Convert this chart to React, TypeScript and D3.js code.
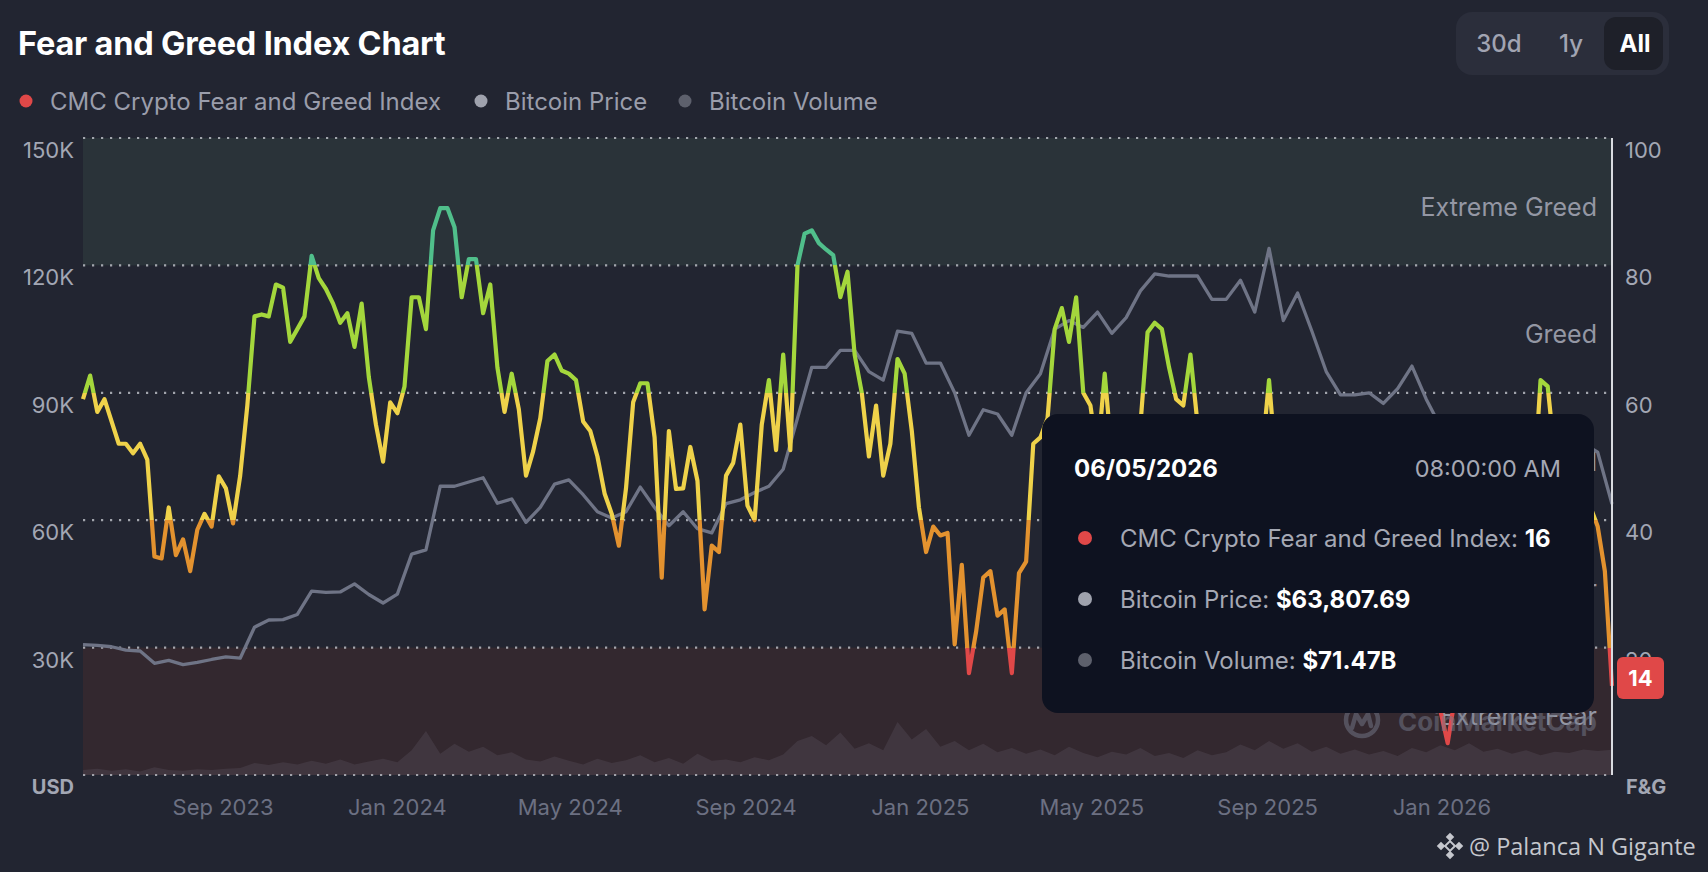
import * as d3 from "d3";

const WIDTH = 1708;
const HEIGHT = 872;

// sampling of the series (UTC days from the first point)
const SERIES_START = "2023-05-26";
const FG_STEP_DAYS = 5;
const PRICE_STEP_DAYS = 10;

// CMC Crypto Fear and Greed Index, every 5 days
const FEAR_GREED = [
  59, 62.7, 57, 59, 55.5, 52, 52, 50.5, 52, 49.5,
  34.3, 34, 42, 34.5, 37, 32, 38.5, 41, 39, 46.9,
  45, 39.5, 47, 58, 72, 72.3, 72, 77, 76.5, 68,
  70, 72, 81.5, 78, 76.3, 74, 71, 72.5, 67.2, 74,
  62.5, 55, 49.2, 58.5, 56.8, 61, 75, 75, 70, 85.5,
  89, 89, 86, 75, 81, 81, 72.5, 77, 64, 57,
  63, 57.4, 47, 50.8, 56, 65, 66, 63.5, 63, 62,
  55.5, 54, 50, 44.2, 41, 36, 45, 58.5, 61.5, 61.5,
  53, 31, 54, 44.9, 45, 51.5, 46.2, 26, 36, 35,
  47, 49, 55, 42.3, 40, 55, 62, 51, 66, 51,
  80, 85, 85.5, 83.5, 82.5, 81.6, 75, 79, 66, 60,
  50, 58, 47, 52, 65.3, 63, 54, 42, 35, 39,
  37.6, 38, 20.5, 33, 16, 22.5, 31, 32, 25, 26,
  16, 31.7, 33.5, 52, 53, 56, 70, 73.3, 68, 75,
  60, 58, 50, 63, 50, 45, 48, 52, 55, 69.5,
  71, 70, 64, 59, 58, 66, 55, 50, 46, 48,
  44, 50, 47, 42, 45, 50, 62, 48, 40, 36,
  42, 33, 30, 38, 28, 24, 30, 20, 15, 22,
  18, 25, 28, 22, 30, 26, 32, 28, 20, 14,
  10, 5, 12, 16, 12, 20, 18, 26, 24, 30,
  28, 36, 40, 44, 62, 61, 50, 42, 45, 38,
  44, 42, 39, 32, 14,
];

// Bitcoin price in thousands of USD, every 10 days
const BTC_PRICE_K = [
  30.7, 30.5, 30.2, 29.4, 29.2, 26.3, 27, 26, 26.5, 27.2,
  27.8, 27.5, 34.8, 36.5, 36.6, 37.8, 43.3, 43, 43.1, 45,
  42.5, 40.5, 42.6, 52, 53, 68, 68, 69, 70, 64,
  65, 59.5, 63, 68.5, 69.5, 66, 62, 60.5, 62, 67.8,
  63, 58.7, 62, 58, 57, 63.9, 64.8, 66.5, 68, 72,
  84, 96, 96, 100, 100, 95, 93, 104.5, 104, 97,
  97, 90, 80, 86, 85, 80, 90, 94.5, 105, 107,
  105.4, 109, 104, 107.7, 114, 118, 117.5, 117.5, 117.5, 112,
  112, 116.5, 109, 124, 107, 113.5, 104.5, 95, 89.5, 89.5,
  90, 87.5, 91, 96.3, 88.5, 82, 78, 75, 70, 68,
  70, 72, 74, 76, 78, 78, 76, 63.8,
];

// Bitcoin volume in billions of USD, every 10 days
const BTC_VOLUME_B = [
  14, 18, 12, 16, 10, 22, 14, 12, 16, 14, 18, 20,
  34, 28, 36, 30, 40, 32, 44, 30, 38, 46, 36,
  70, 124, 60, 88, 66, 80, 56, 64,
  44, 38, 52, 40, 30, 46, 34, 42, 56, 36, 48, 32, 60, 40, 44, 36, 50, 42, 58,
  96, 110, 84, 120, 74, 90, 70,
  150, 100, 130, 80, 96, 70, 88, 64, 76, 60,
  72, 56, 80, 62, 50, 66, 58, 76, 54, 62, 48, 70, 56, 64,
  86, 70, 96, 74, 90, 66, 80, 60, 72, 58, 68, 54, 76, 64,
  84, 70, 90, 66, 74, 60, 70, 56, 66, 62, 72, 68, 71.47,
];

const FG_TICKS = [20, 40, 60, 80, 100];
const PRICE_TICKS_K = [30, 60, 90, 120, 150];

const ZONE_NAMES = ["Extreme Fear", "Fear", "Neutral", "Greed", "Extreme Greed"];
const ZONE_EDGES = [0, 20, 40, 60, 80, 100];
const ZONE_COLORS = ["#e04848", "#e3922f", "#efd24a", "#a4d73c", "#50bf8b"];

const LEGEND_NAMES = ["CMC Crypto Fear and Greed Index", "Bitcoin Price", "Bitcoin Volume"];
const LEGEND_DOTS = ["#e04848", "#9fa2ad", "#5d606c"];

const RANGES = ["30d", "1y", "All"];

const TOOLTIP_DATE = "06/05/2026";
const TOOLTIP_TIME = "08:00:00 AM";
const TOOLTIP_VALUES = ["16", "$63,807.69", "$71.47B"];
const LAST_FG = "14";

const M = { left: 83, right: 1612, top: 138, bottom: 775 };
const FONT = "Inter, 'Noto Sans', sans-serif";

export default function App() {
  const start = new Date(SERIES_START + "T00:00:00Z");
  const fgDates = FEAR_GREED.map((_, i) => d3.utcDay.offset(start, i * FG_STEP_DAYS));
  const priceDates = BTC_PRICE_K.map((_, i) => d3.utcDay.offset(start, i * PRICE_STEP_DAYS));
  const end = fgDates[fgDates.length - 1];

  const x = d3.scaleUtc().domain([start, end]).range([M.left, M.right]);
  const yFg = d3.scaleLinear().domain([0, 100]).range([M.bottom, M.top]);
  const yPrice = d3.scaleLinear().domain([0, 150]).range([M.bottom, M.top]);
  const yVol = d3.scaleLinear().domain([0, 360]).range([M.bottom, yFg(20)]);

  const fgPath = d3
    .line<number>()
    .x((_, i) => x(fgDates[i]))
    .y((d) => yFg(d))(FEAR_GREED);
  const pricePath = d3
    .line<number>()
    .x((_, i) => x(priceDates[i]))
    .y((d) => yPrice(d))(BTC_PRICE_K);
  const volPath = d3
    .area<number>()
    .x((_, i) => x(priceDates[i]))
    .y0(M.bottom)
    .y1((d) => yVol(d))(BTC_VOLUME_B);

  const months = x.ticks(d3.utcMonth.every(4)!);
  const fmtMonth = d3.utcFormat("%b %Y");

  // hard colour stops at each zone edge, top (100) to bottom (0)
  const stops = ZONE_COLORS.map((c, k) => [
    { off: (100 - ZONE_EDGES[k + 1]) / 100, c },
    { off: (100 - ZONE_EDGES[k]) / 100, c },
  ])
    .reverse()
    .flat();

  const legendX = [26, 481, 685];
  const rangeX = [1499, 1571, 1635];
  const tipRows = [538, 599, 660];

  return (
    <>
      <style>{`body{margin:0;background:#222531}`}</style>
      <svg width={WIDTH} height={HEIGHT} style={{ display: "block", fontFamily: FONT }}>
        <defs>
          <linearGradient
            id="fgGrad"
            gradientUnits="userSpaceOnUse"
            x1={0}
            x2={0}
            y1={yFg(100)}
            y2={yFg(0)}
          >
            {stops.map((s, i) => (
              <stop key={i} offset={s.off} stopColor={s.c} />
            ))}
          </linearGradient>
        </defs>
        <rect width={WIDTH} height={HEIGHT} fill="#222531" />

        {/* header */}
        <text x={18} y={55} fill="#ffffff" fontSize={32.5} fontWeight={700} letterSpacing={-0.2}>
          Fear and Greed Index Chart
        </text>
        {LEGEND_NAMES.map((n, i) => (
          <g key={n}>
            <circle cx={legendX[i]} cy={101} r={6.5} fill={LEGEND_DOTS[i]} />
            <text x={legendX[i] + 24} y={101} dominantBaseline="central" fill="#9a9dab" fontSize={24}>
              {n}
            </text>
          </g>
        ))}

        <rect x={1456} y={12} width={213} height={63} rx={16} fill="#2b2e3b" />
        <rect x={1604} y={17} width={59} height={53} rx={12} fill="#1e2029" />
        {RANGES.map((r, i) => (
          <text
            key={r}
            x={rangeX[i]}
            y={43}
            textAnchor="middle"
            dominantBaseline="central"
            fontSize={24}
            fontWeight={r === "All" ? 700 : 500}
            fill={r === "All" ? "#ffffff" : "#a1a4b2"}
          >
            {r}
          </text>
        ))}

        {/* zone bands */}
        <rect x={M.left} width={M.right - M.left} y={yFg(100)} height={yFg(80) - yFg(100)} fill="#2a3339" />
        <rect x={M.left} width={M.right - M.left} y={yFg(20)} height={yFg(0) - yFg(20)} fill="#33282f" />

        {/* grid */}
        {[0, ...FG_TICKS].map((t) => (
          <line
            key={t}
            x1={M.left}
            x2={M.right}
            y1={yFg(t)}
            y2={yFg(t)}
            stroke="#cdd0d7"
            strokeOpacity={0.75}
            strokeWidth={2.2}
            strokeDasharray="2.2 6.8"
          />
        ))}

        {/* axes labels */}
        {PRICE_TICKS_K.map((t) => (
          <text key={t} x={74} y={yPrice(t) + 12} textAnchor="end" dominantBaseline="central" fontSize={22} fill="#a3a7b4">
            {`${t}K`}
          </text>
        ))}
        <text x={74} y={787} textAnchor="end" dominantBaseline="central" fontSize={20} fontWeight={700} fill="#a3a7b4">
          USD
        </text>
        {FG_TICKS.map((t) => (
          <text key={t} x={1625} y={yFg(t) + 12} dominantBaseline="central" fontSize={22} fill="#a3a7b4">
            {t}
          </text>
        ))}
        <text x={1626} y={787} dominantBaseline="central" fontSize={20} fontWeight={700} fill="#a3a7b4">
          F&amp;G
        </text>
        {months.map((m) => (
          <text key={+m} x={x(m)} y={807} textAnchor="middle" dominantBaseline="central" fontSize={22} fill="#6c7082">
            {fmtMonth(m)}
          </text>
        ))}

        {/* zone names */}
        {ZONE_NAMES.map((n, k) => (
          <text
            key={n}
            x={1597}
            y={yFg((ZONE_EDGES[k] + ZONE_EDGES[k + 1]) / 2) + 5}
            textAnchor="end"
            dominantBaseline="central"
            fontSize={25}
            fill="#9497a4"
          >
            {n}
          </text>
        ))}

        {/* series */}
        <path d={volPath ?? ""} fill="#8a8597" fillOpacity={0.16} />
        <path d={pricePath ?? ""} fill="none" stroke="#6f7486" strokeWidth={3.3} strokeLinejoin="round" />
        <path d={fgPath ?? ""} fill="none" stroke="url(#fgGrad)" strokeWidth={4.2} strokeLinejoin="round" />

        {/* watermark */}
        <g opacity={0.5} fill="none" stroke="#767a8b" strokeWidth={4.5}>
          <circle cx={1362} cy={720} r={16} />
          <path d="M1352 728 L1356 714 L1362 724 L1368 714 L1371 726" strokeLinejoin="round" strokeLinecap="round" />
        </g>
        <text x={1597} y={721} textAnchor="end" dominantBaseline="central" fontSize={26} fontWeight={700} fill="#767a8b" opacity={0.5}>
          CoinMarketCap
        </text>

        {/* crosshair */}
        <line x1={M.right} x2={M.right} y1={M.top} y2={M.bottom} stroke="#d9dbe0" strokeWidth={2} />

        {/* tooltip */}
        <rect x={1042} y={414} width={552} height={299} rx={16} fill="#0e1220" />
        <text x={1074} y={468} dominantBaseline="central" fontSize={24} fontWeight={700} fill="#ffffff">
          {TOOLTIP_DATE}
        </text>
        <text x={1561} y={468} textAnchor="end" dominantBaseline="central" fontSize={23.5} fill="#a5a8b4">
          {TOOLTIP_TIME}
        </text>
        {LEGEND_NAMES.map((n, i) => (
          <g key={n}>
            <circle cx={1085} cy={tipRows[i]} r={7} fill={LEGEND_DOTS[i]} />
            <text x={1120} y={tipRows[i]} dominantBaseline="central" fontSize={24} fill="#a5a8b4">
              {`${n}: `}
              <tspan fontWeight={700} fill="#ffffff">
                {TOOLTIP_VALUES[i]}
              </tspan>
            </text>
          </g>
        ))}

        {/* last value badge */}
        <rect x={1617} y={657} width={47} height={42} rx={6} fill="#e04848" />
        <text x={1640.5} y={678} textAnchor="middle" dominantBaseline="central" fontSize={22} fontWeight={700} fill="#ffffff">
          {LAST_FG}
        </text>

        {/* footer */}
        <g fill="#c5c7cd" transform="translate(1450,846)">
          {[
            [0, -9],
            [9, 0],
            [0, 9],
            [-9, 0],
          ].map(([dx, dy], i) => (
            <rect key={i} x={dx - 3} y={dy - 3} width={6} height={6} transform={`rotate(45 ${dx} ${dy})`} />
          ))}
          <rect x={-3.5} y={-3.5} width={7} height={7} transform="rotate(45)" fill="none" stroke="#c5c7cd" strokeWidth={2} />
        </g>
        <text x={1469} y={846} dominantBaseline="central" fontSize={23.5} fill="#c5c7cd" fontFamily="'Open Sans', 'Noto Sans', sans-serif">
          @ Palanca N Gigante
        </text>
      </svg>
    </>
  );
}
